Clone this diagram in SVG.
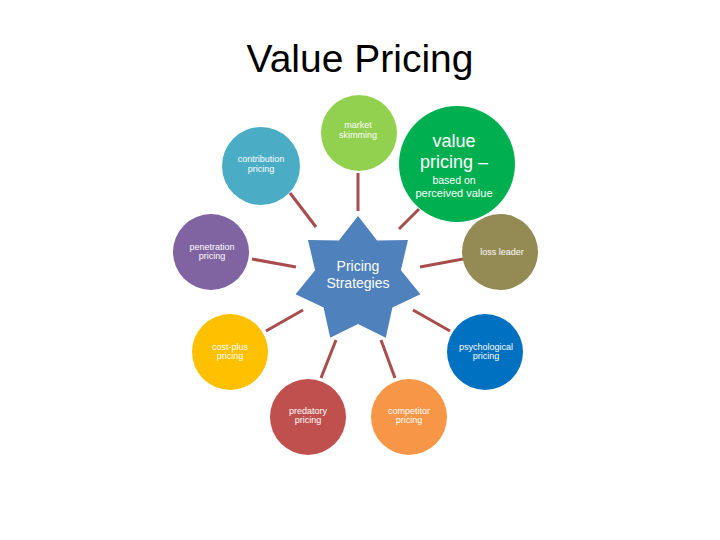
<svg xmlns="http://www.w3.org/2000/svg" width="720" height="540" viewBox="0 0 720 540">
<style>
.t{font-family:"Liberation Sans",Arial,sans-serif;fill:#fff;text-anchor:middle}
.s{font-size:9px}
.c{stroke:#A94C4C;stroke-width:3;fill:none}
</style>
<rect width="720" height="540" fill="#fff"/>
<text x="360" y="72" font-family="Liberation Sans,Arial,sans-serif" font-size="39" text-anchor="middle" fill="#000">Value Pricing</text>
<g id="connectors">
<line class="c" x1="358" y1="173" x2="358" y2="211"/>
<line class="c" x1="290" y1="193" x2="316" y2="227"/>
<line class="c" x1="419" y1="209" x2="399" y2="229"/>
<line class="c" x1="252" y1="259" x2="296" y2="267"/>
<line class="c" x1="420" y1="267" x2="463" y2="259"/>
<line class="c" x1="303" y1="310" x2="266" y2="331"/>
<line class="c" x1="413" y1="310" x2="450" y2="331"/>
<line class="c" x1="336" y1="340" x2="321" y2="378"/>
<line class="c" x1="381" y1="340" x2="395" y2="378"/>
</g>
<g id="center">
<polygon fill="#4F81BD" points="358,216 377.1,240.4 408,240.1 400.9,270.2 420.4,294.2 392.4,307.4 385.8,337.7 358,324 330.2,337.7 323.6,307.4 295.6,294.2 315.1,270.2 308,240.1 338.9,240.4"/>
<text class="t" x="358" y="271" font-size="14">Pricing</text>
<text class="t" x="358" y="288" font-size="14">Strategies</text>
</g>
<g id="market">
<circle cx="359" cy="133" r="38" fill="#92D050"/>
<text class="t s" x="358" y="128">market</text>
<text class="t s" x="358" y="138">skimming</text>
</g>
<g id="value">
<circle cx="457" cy="164" r="58" fill="#00B050"/>
<text class="t" x="454" y="147" font-size="18">value</text>
<text class="t" x="454" y="168" font-size="18">pricing –</text>
<text class="t" x="454" y="184" font-size="10.5">based on</text>
<text class="t" x="454" y="197" font-size="11">perceived value</text>
</g>
<g id="contribution">
<circle cx="261" cy="166" r="39" fill="#4BACC6"/>
<text class="t s" x="261" y="162">contribution</text>
<text class="t s" x="261" y="172">pricing</text>
</g>
<g id="penetration">
<circle cx="211" cy="252" r="38" fill="#8064A2"/>
<text class="t s" x="212" y="250">penetration</text>
<text class="t s" x="212" y="259">pricing</text>
</g>
<g id="lossleader">
<circle cx="500" cy="252" r="38" fill="#948A54"/>
<text class="t s" x="502" y="255">loss leader</text>
</g>
<g id="costplus">
<circle cx="230" cy="352" r="38" fill="#FFC000"/>
<text class="t s" x="230" y="350">cost-plus</text>
<text class="t s" x="230" y="359">pricing</text>
</g>
<g id="psychological">
<circle cx="485" cy="352" r="38" fill="#0070C0"/>
<text class="t s" x="486" y="350">psychological</text>
<text class="t s" x="486" y="359">pricing</text>
</g>
<g id="predatory">
<circle cx="308" cy="417" r="38" fill="#C0504D"/>
<text class="t s" x="308" y="414">predatory</text>
<text class="t s" x="308" y="423">pricing</text>
</g>
<g id="competitor">
<circle cx="409" cy="417" r="38" fill="#F79646"/>
<text class="t s" x="409" y="414">competitor</text>
<text class="t s" x="409" y="423">pricing</text>
</g>
</svg>
